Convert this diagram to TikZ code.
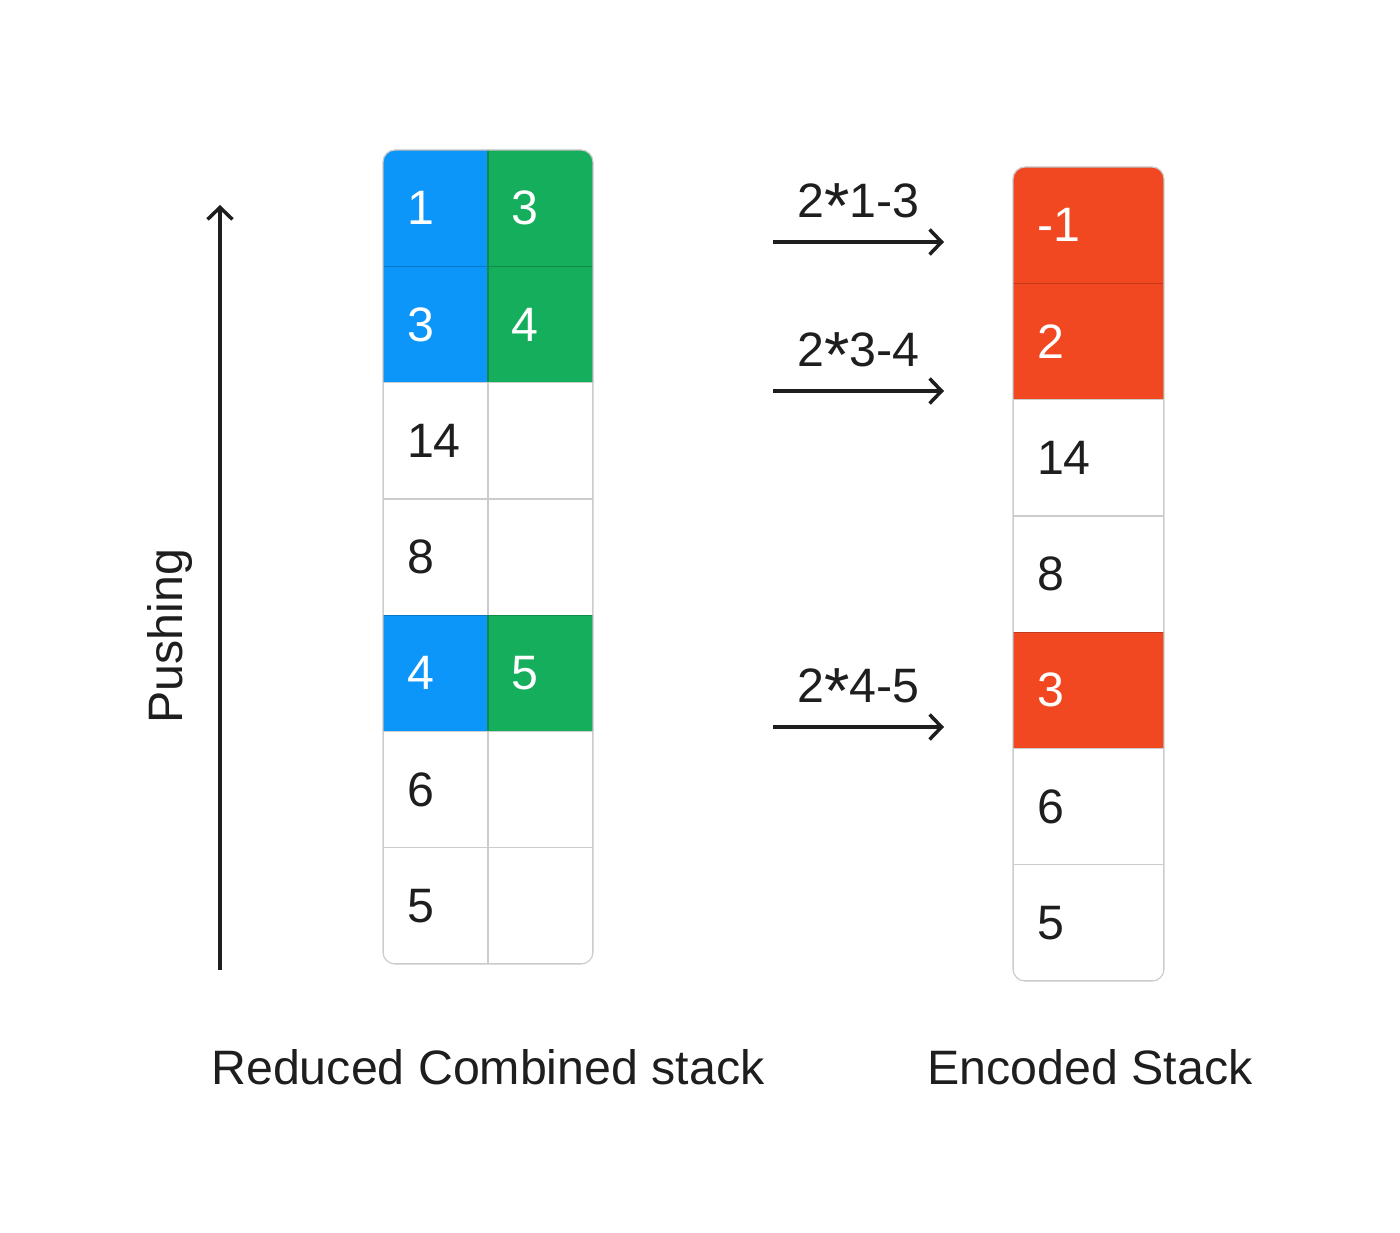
\documentclass[tikz,border=0pt]{standalone}
\usepackage{fontspec}
\setmainfont{Liberation Sans}
\usetikzlibrary{positioning,arrows.meta}

\definecolor{cellblue}{HTML}{0D96FA}
\definecolor{cellgreen}{HTML}{14AE5C}
\definecolor{cellred}{HTML}{F24822}
\definecolor{gridgray}{HTML}{CCCCCC}
\definecolor{ink}{HTML}{1E1E1E}

\newcommand{\mulsign}{\raisebox{-0.22em}{\scalebox{1.35}{*}}}

\tikzset{
  bigfont/.style={font=\fontsize{27.5pt}{33pt}\selectfont},
  cell/.style={draw=gridgray, line width=0.7pt, outer sep=0pt, inner xsep=0.48cm,
    minimum height=2.326cm, align=left, bigfont, text=ink},
  leftcell/.style={cell, minimum width=2.1cm, text width=1.14cm},
  rightcell/.style={cell, minimum width=3.02cm, text width=2.06cm},
  plain/.style={fill=white},
  blue/.style={fill=cellblue, draw=cellblue!80!black, text=white},
  green/.style={fill=cellgreen, draw=cellgreen!80!black, text=white},
  red/.style={fill=cellred, draw=cellred!80!black, text=white},
  flow/.style={draw=ink, line width=2pt, -{Straight Barb[length=0.24cm,width=0.5cm,line width=2pt]}},
  caption/.style={bigfont, text=ink}
}

\begin{document}
\begin{tikzpicture}[x=0.02cm,y=-0.02cm]
  \useasboundingbox (0,0) rectangle (1400,1233);

  % reduced combined stack
  \begin{scope}
    \clip[rounded corners=0.24cm] (383,150) rectangle (593,964);
    \foreach \a/\sa/\b/\sb [count=\i] in {1/blue/3/green, 3/blue/4/green, 14/plain//plain,
        8/plain//plain, 4/blue/5/green, 6/plain//plain, 5/plain//plain}
    {
      \node[leftcell, \sa] (L\i a) at (435.5, {208.15+(\i-1)*116.3}) {\a};
      \node[leftcell, \sb, right=0pt of L\i a] (L\i b) {\b};
    }
  \end{scope}
  \draw[gridgray, line width=0.7pt, rounded corners=0.24cm] (383,150) rectangle (593,964);

  % encoded stack
  \begin{scope}
    \clip[rounded corners=0.24cm] (1013,167) rectangle (1164,981);
    \foreach \v/\s [count=\i] in {-1/red, 2/red, 14/plain, 8/plain, 3/red, 6/plain, 5/plain}
      \node[rightcell, \s] (R\i) at (1088.5, {225.15+(\i-1)*116.3}) {\v};
  \end{scope}
  \draw[gridgray, line width=0.7pt, rounded corners=0.24cm] (1013,167) rectangle (1164,981);

  % pushing direction
  \coordinate (pushbot) at (220,970);
  \coordinate (pushtop) at (220,205);
  \draw[flow] (pushbot) -- (pushtop);
  \node[caption, rotate=90] (pushlabel) at (170,636) {Pushing};

  % encoding steps
  \foreach \y/\t [count=\k] in {242/2\mulsign1-3, 391/2\mulsign3-4, 727/2\mulsign4-5}
  {
    \coordinate (E\k s) at (773,\y);
    \coordinate (E\k e) at (944,\y);
    \draw[flow] (E\k s) -- node[caption, above=0.12cm] (E\k label) {\t} (E\k e);
  }

  % captions
  \node[caption] (leftcap) at (488,1067) {Reduced Combined stack};
  \node[caption] (rightcap) at (1090,1067) {Encoded Stack};
\end{tikzpicture}
\end{document}
